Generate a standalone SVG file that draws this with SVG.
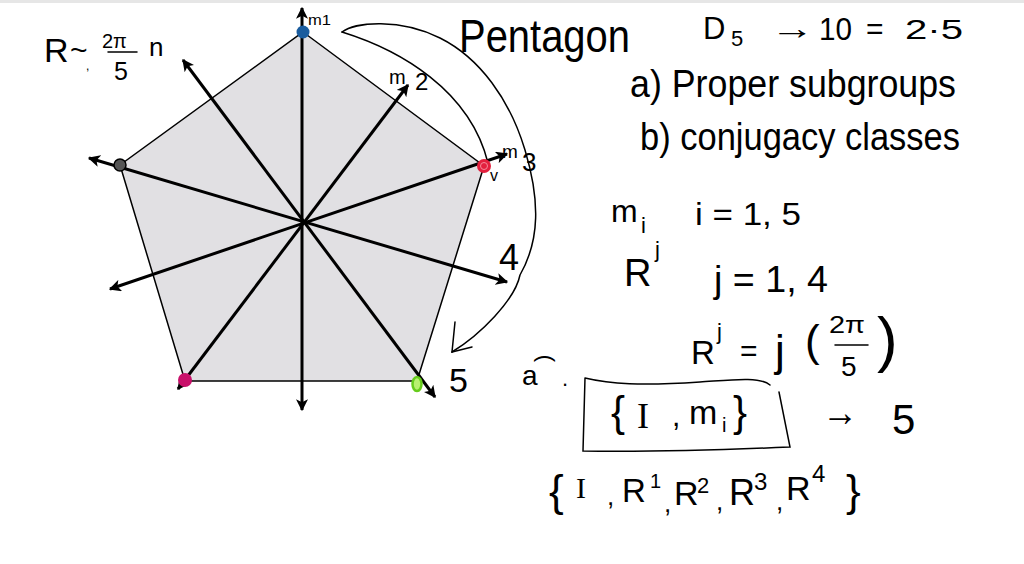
<svg xmlns="http://www.w3.org/2000/svg" width="1024" height="564" viewBox="0 0 1024 564">
<defs>
<marker id="ah" viewBox="0 0 10 10" refX="9" refY="5" markerWidth="4" markerHeight="4" orient="auto-start-reverse" markerUnits="strokeWidth">
<path d="M0,0 L10,5 L0,10 L2.5,5 Z" fill="#000"/>
</marker>
<style>
.t{font-family:"Liberation Sans","DejaVu Sans",sans-serif;fill:#000}
.ax{stroke:#000;stroke-width:3;fill:none;marker-start:url(#ah);marker-end:url(#ah)}
.thin{stroke:#000;stroke-width:1.5;fill:none;stroke-linecap:round}
</style>
</defs>
<rect width="1024" height="564" fill="#fff"/>
<rect width="1024" height="3" fill="#e6e6e6"/>

<g id="pentagon">
<polygon points="303,32 484,166 417,381 185,381 120,165" fill="#e1e0e3" stroke="#000" stroke-width="1.5"/>
</g>

<g id="connectors">
<line class="ax" x1="302" y1="8" x2="302" y2="410"/>
<line class="ax" x1="178" y1="389" x2="408" y2="85"/>
<line class="ax" x1="183" y1="60" x2="435" y2="397"/>
<line class="ax" x1="89" y1="158" x2="507" y2="282"/>
<line class="ax" x1="110" y1="289" x2="507" y2="154"/>
<path class="thin" d="M342,32 C400,50 470,90 488,163"/>
<path class="thin" d="M342,32 C355,22 400,18 440,38 S510,100 525,150 S540,240 520,275 C515,300 480,335 452,352"/>
<path class="thin" d="M455,322 L452,352 L472,347"/>
</g>

<g id="vertices">
<circle cx="303" cy="32" r="6.5" fill="#1a5c9e"/>
<circle cx="484" cy="166" r="7" fill="#e3203e"/>
<circle cx="484" cy="166" r="3.5" fill="none" stroke="#f58a9a" stroke-width="1"/>
<circle cx="120" cy="165" r="6" fill="#555" stroke="#000" stroke-width="1.5"/>
<circle cx="185" cy="380" r="7" fill="#c8106a"/>
<ellipse cx="417" cy="384" rx="4.5" ry="7" fill="#b8f070" stroke="#66cc1c" stroke-width="2.5"/>
</g>

<g id="diagram-labels">
<text class="t" x="308" y="25" font-size="15" textLength="23" lengthAdjust="spacingAndGlyphs">m1</text>
<text class="t" x="389" y="84" font-size="20">m</text>
<text class="t" x="415" y="90" font-size="24">2</text>
<text class="t" x="502" y="158" font-size="19">m</text>
<text class="t" x="522" y="171" font-size="26">3</text>
<text class="t" x="490" y="181" font-size="16">v</text>
<text class="t" x="499" y="270" font-size="36">4</text>
<text class="t" x="449" y="392" font-size="34">5</text>
<text class="t" x="44" y="62" font-size="34">R</text>
<text class="t" x="70" y="60" font-size="30">~</text>
<text class="t" x="102" y="48" font-size="20">2π</text>
<line class="thin" x1="108" y1="52" x2="137" y2="52"/>
<text class="t" x="114" y="80" font-size="25">5</text>
<text class="t" x="149" y="56" font-size="26">n</text>
<text class="t" x="86" y="70" font-size="12">,</text>
</g>

<g id="notes">
<text class="t" x="459" y="52" font-size="46" textLength="171" lengthAdjust="spacingAndGlyphs">Pentagon</text>
<text class="t" x="703" y="39" font-size="31">D</text>
<text class="t" x="731" y="46" font-size="22">5</text>
<text class="t" x="770" y="39" font-size="32" textLength="44" lengthAdjust="spacingAndGlyphs">→</text>
<text class="t" x="819" y="40" font-size="32" textLength="33" lengthAdjust="spacingAndGlyphs">10</text>
<text class="t" x="866" y="39" font-size="30">=</text>
<text class="t" x="905" y="39" font-size="28" textLength="58" lengthAdjust="spacingAndGlyphs">2·5</text>
<text class="t" x="630" y="97" font-size="38" textLength="326" lengthAdjust="spacingAndGlyphs">a) Proper subgroups</text>
<text class="t" x="640" y="150" font-size="38" textLength="320" lengthAdjust="spacingAndGlyphs">b) conjugacy classes</text>
<text class="t" x="611" y="222" font-size="32">m</text>
<text class="t" x="641" y="233" font-size="22">i</text>
<text class="t" x="695" y="225" font-size="32" textLength="106" lengthAdjust="spacingAndGlyphs">i = 1, 5</text>
<text class="t" x="624" y="286" font-size="38">R</text>
<text class="t" x="655" y="257" font-size="22">j</text>
<text class="t" x="714" y="292" font-size="36" textLength="114" lengthAdjust="spacingAndGlyphs">j = 1, 4</text>
<text class="t" x="691" y="364" font-size="33">R</text>
<text class="t" x="717" y="339" font-size="22">j</text>
<text class="t" x="740" y="361" font-size="30">=</text>
<text class="t" x="775" y="366" font-size="44">j</text>
<text class="t" x="805" y="356" font-size="44">(</text>
<text class="t" x="829" y="333" font-size="24" textLength="36" lengthAdjust="spacingAndGlyphs">2π</text>
<line class="thin" x1="835" y1="345" x2="868" y2="345"/>
<text class="t" x="841" y="376" font-size="28">5</text>
<text class="t" x="877" y="360" font-size="62">)</text>
<text class="t" x="522" y="385" font-size="28">a</text>
<text class="t" x="550" y="362" font-size="22" transform="rotate(-90 550 362)">)</text>
<text class="t" x="562" y="386" font-size="22">.</text>
</g>

<g id="boxed-set">
<path d="M585,378 C610,384 640,386 700,382 C730,380 760,376 770,385 M779,392 L790,447 C720,450 650,452 583,451 L585,378" fill="none" stroke="#000" stroke-width="1.5" stroke-linecap="round"/>
<text class="t" x="611" y="426" font-size="42">{</text>
<text x="637" y="428" font-family="Liberation Serif, serif" font-size="36">I</text>
<text class="t" x="672" y="426" font-size="30">,</text>
<text class="t" x="689" y="424" font-size="34">m</text>
<text class="t" x="722" y="432" font-size="20">i</text>
<text class="t" x="733" y="426" font-size="42">}</text>
<text class="t" x="822" y="426" font-size="40" textLength="36" lengthAdjust="spacingAndGlyphs">→</text>
<text class="t" x="892" y="434" font-size="42">5</text>
</g>

<g id="rotation-set">
<text class="t" x="549" y="506" font-size="44">{</text>
<text x="576" y="498" font-family="Liberation Serif, serif" font-size="30">I</text>
<text class="t" x="607" y="505" font-size="26">,</text>
<text class="t" x="622" y="502" font-size="33">R</text>
<text class="t" x="650" y="488" font-size="20">1</text>
<text class="t" x="664" y="512" font-size="26">,</text>
<text class="t" x="674" y="505" font-size="34">R</text>
<text class="t" x="697" y="493" font-size="22">2</text>
<text class="t" x="716" y="510" font-size="26">,</text>
<text class="t" x="729" y="505" font-size="36">R</text>
<text class="t" x="754" y="490" font-size="24">3</text>
<text class="t" x="776" y="510" font-size="26">,</text>
<text class="t" x="786" y="500" font-size="34">R</text>
<text class="t" x="812" y="482" font-size="24">4</text>
<text class="t" x="846" y="506" font-size="44">}</text>
</g>
</svg>
